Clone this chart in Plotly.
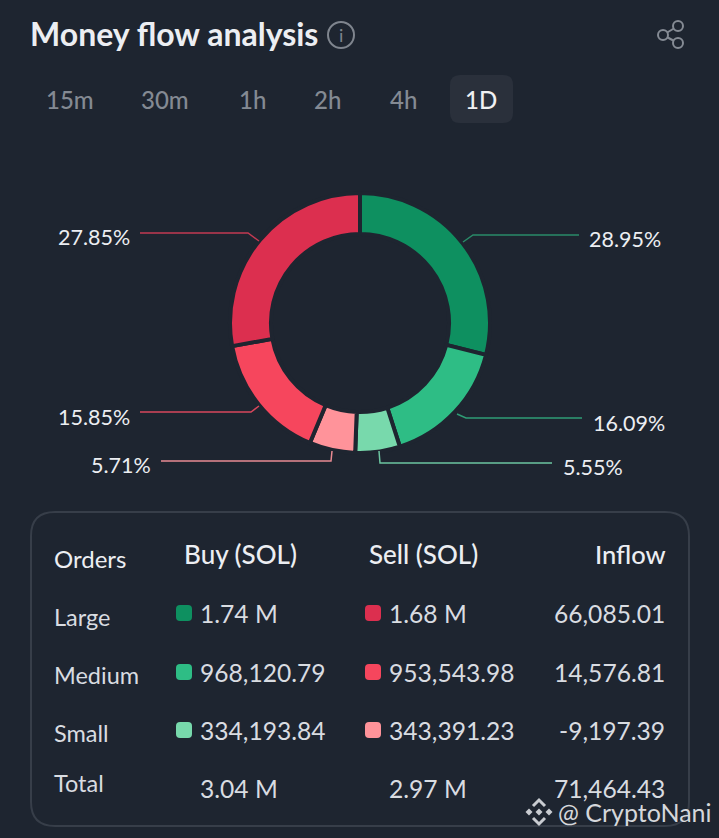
import plotly.graph_objects as go

W, H = 719, 838
BG = "#1e2530"
FONT = "Lato"

# ---- data ----
slice_names = ["Buy large", "Buy medium", "Buy small", "Sell small", "Sell medium", "Sell large"]
slice_pct = [28.95, 16.09, 5.55, 5.71, 15.85, 27.85]
slice_colors = ["#0e9060", "#2ebd85", "#78d9ac", "#ff939a", "#f6465d", "#dc2f4f"]

tabs = ["15m", "30m", "1h", "2h", "4h", "1D"]
tab_x = [70, 165, 252, 327, 403, 481]

orders = ["Large", "Medium", "Small", "Total"]
buy_vals = ["1.74 M", "968,120.79", "334,193.84", "3.04 M"]
sell_vals = ["1.68 M", "953,543.98", "343,391.23", "2.97 M"]
inflow_vals = ["66,085.01", "14,576.81", "-9,197.39", "71,464.43"]
order_y = [617, 675, 733, 783]
value_y = [613, 672, 730, 788]

pct_labels = ["28.95%", "16.09%", "5.55%", "5.71%", "15.85%", "27.85%"]
label_pos = [(589, 239, "left"), (593, 423, "left"), (563, 467, "left"),
             (151, 465, "right"), (130, 417, "right"), (130, 237, "right")]
leaders = [
    [(463, 242), (473, 235), (579, 235)],
    [(457, 414), (466, 418), (582, 418)],
    [(379, 451), (380, 463), (552, 463)],
    [(332, 451), (331, 461), (161, 461)],
    [(259, 406), (251, 412), (140, 412)],
    [(259, 241), (248, 233), (140, 233)],
]
leader_colors = ["#2a8a68", "#2f9c75", "#6cc5a0", "#e88a92", "#d8475c", "#c23a52"]

# ---- donut geometry (pixels) ----
CX, CY, R = 360, 323, 130

fig = go.Figure()
fig.add_trace(go.Pie(
    labels=slice_names, values=slice_pct, sort=False, direction="clockwise", rotation=0,
    hole=0.685, textinfo="none", hoverinfo="label+percent", showlegend=False,
    marker=dict(colors=slice_colors, line=dict(color=BG, width=4)),
    domain=dict(x=[(CX - R) / W, (CX + R) / W], y=[1 - (CY + R) / H, 1 - (CY - R) / H]),
))

shapes, anns = [], []


def T(x, y, s, size=22, color="#e6e8ec", anchor="left", weight=400):
    shift = {"left": -2, "right": 2, "center": 0}[anchor]
    anns.append(dict(x=x, y=y, xref="x", yref="y", text=s, showarrow=False, xanchor=anchor,
                     yanchor="middle", xshift=shift,
                     font=dict(family=FONT, size=size, color=color, weight=weight)))


def rrect(x0, y0, x1, y1, r, fill=None, line=None, lw=0):
    p = (f"M{x0+r},{y0} L{x1-r},{y0} Q{x1},{y0} {x1},{y0+r} L{x1},{y1-r} Q{x1},{y1} {x1-r},{y1} "
         f"L{x0+r},{y1} Q{x0},{y1} {x0},{y1-r} L{x0},{y0+r} Q{x0},{y0} {x0+r},{y0} Z")
    shapes.append(dict(type="path", path=p, xref="x", yref="y", fillcolor=fill or "rgba(0,0,0,0)",
                       line=dict(color=line or "rgba(0,0,0,0)", width=lw)))


def circ(cx, cy, r, line, lw=2, fill="rgba(0,0,0,0)"):
    shapes.append(dict(type="circle", x0=cx - r, x1=cx + r, y0=cy - r, y1=cy + r, xref="x", yref="y",
                       line=dict(color=line, width=lw), fillcolor=fill))


def seg(pts, color, lw=1.5):
    p = "M" + " L".join(f"{x},{y}" for x, y in pts)
    shapes.append(dict(type="path", path=p, xref="x", yref="y", line=dict(color=color, width=lw)))


def diamond(cx, cy, r, fill):
    p = f"M{cx},{cy-r} L{cx+r},{cy} L{cx},{cy+r} L{cx-r},{cy} Z"
    shapes.append(dict(type="path", path=p, xref="x", yref="y", fillcolor=fill, line=dict(width=0)))


# header
T(30, 33, "Money flow analysis", size=32, color="#eceef2", weight=700)
circ(341, 35, 13, "#7f858e", 2)
T(341, 35, "i", size=18, color="#7f858e", anchor="center")
seg([(663, 35), (678, 26)], "#858b94", 2)
seg([(663, 35), (678, 43)], "#858b94", 2)
for cx, cy in [(678, 26), (663, 35), (678, 43)]:
    circ(cx, cy, 5, "#858b94", 2, BG)

# tabs
rrect(450, 75, 513, 123, 10, fill="#2a303b")
for s, x in zip(tabs, tab_x):
    sel = s == "1D"
    T(x, 99, s, size=24, color="#f0f1f3" if sel else "#848a93", anchor="center", weight=500)

# leaders and percentages
for pts, c in zip(leaders, leader_colors):
    seg(pts, c)
for s, (x, y, a) in zip(pct_labels, label_pos):
    T(x, y, s, size=21.5, color="#eceef2", anchor=a)

# table panel
rrect(31, 512, 689, 826, 24, line="#373e49", lw=2)
T(54, 558, "Orders", size=24, color="#eceef2")
T(184, 554, "Buy (SOL)", size=26, color="#eceef2", weight=500)
T(369, 554, "Sell (SOL)", size=26, color="#eceef2", weight=500)
T(666, 554, "Inflow", size=25.5, color="#eceef2", anchor="right", weight=500)

buy_swatch = slice_colors[:3]
sell_swatch = [slice_colors[5], slice_colors[4], slice_colors[3]]
for i in range(4):
    T(54, order_y[i], orders[i], size=23.5, color="#d9dce1")
    T(200, value_y[i], buy_vals[i], size=24.6, color="#d9dce1")
    T(389, value_y[i], sell_vals[i], size=24.6, color="#d9dce1")
    T(665, value_y[i], inflow_vals[i], size=24.6, color="#d9dce1", anchor="right")
    if i < 3:
        rrect(176, value_y[i] - 8, 192, value_y[i] + 8, 4, fill=buy_swatch[i])
        rrect(365, value_y[i] - 8, 381, value_y[i] + 8, 4, fill=sell_swatch[i])

# watermark
seg([(533, 806), (539, 800), (545, 806)], "#c9ccd1", 3)
seg([(533, 818), (539, 824), (545, 818)], "#c9ccd1", 3)
diamond(539, 812, 3.5, "#c9ccd1")
diamond(529, 812, 3.5, "#c9ccd1")
diamond(549, 812, 3.5, "#c9ccd1")
T(558, 812, "@ CryptoNani", size=25, color="#d5d7db")

fig.update_layout(
    width=W, height=H, autosize=False,
    margin=dict(l=0, r=0, t=0, b=0),
    paper_bgcolor=BG, plot_bgcolor=BG,
    xaxis=dict(range=[0, W], visible=False, fixedrange=True, domain=[0, 1]),
    yaxis=dict(range=[H, 0], visible=False, fixedrange=True, domain=[0, 1]),
    shapes=shapes, annotations=anns,
)
fig.write_html("out.html", config=dict(displayModeBar=False),
               post_script="document.body.style.margin='0';document.body.style.background='#1e2530';")
